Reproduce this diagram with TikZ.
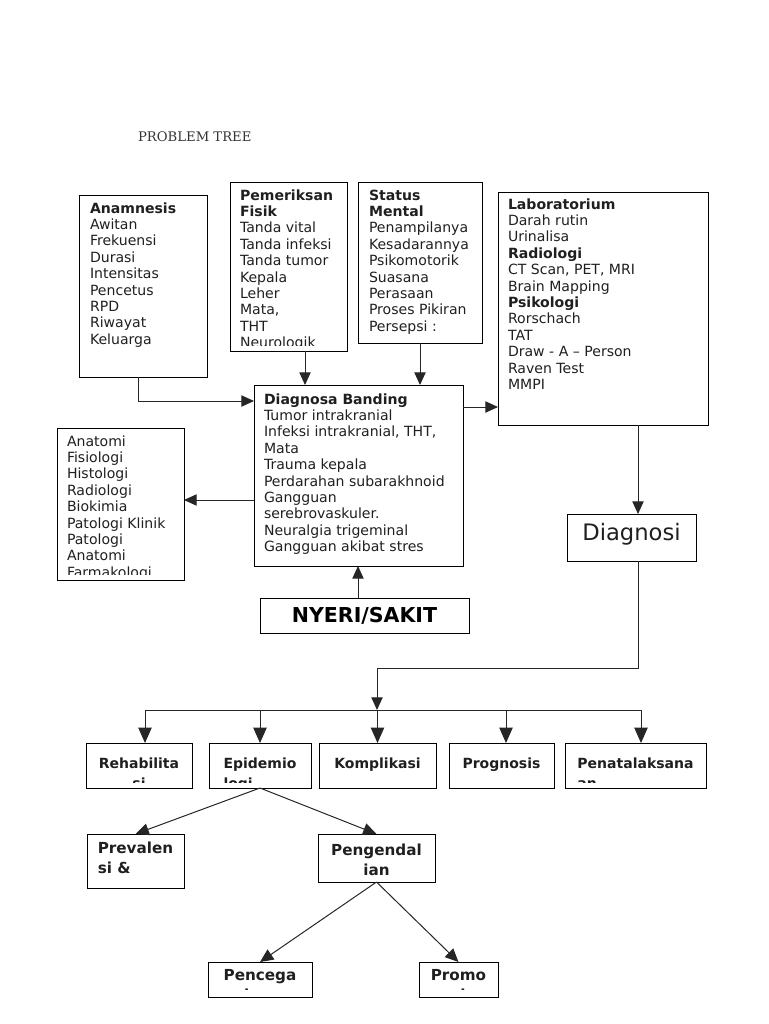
\documentclass[tikz,border=0pt]{standalone}
\usepackage{fontspec}
\setmainfont{DejaVu Sans}
\newfontfamily\titlefont{DejaVu Serif}
\usetikzlibrary{arrows.meta}
\newcommand\listfont{\fontsize{10.55}{12.3}\selectfont}
\newcommand\rowfont{\fontsize{10.5}{15}\selectfont\bfseries}
\newcommand\lowfont{\fontsize{11.4}{15}\selectfont\bfseries}
% list box: name, x1, y1, x2, y2, dx, baseline dy, content
\newcommand\lbox[8]{%
  \node[box, minimum width={(#4-#2)*0.75pt}, minimum height={(#5-#3)*0.75pt}] (#1) at ({(#2+#4)/2},{(#3+#5)/2}) {};
  \begin{scope}
    \clip ([yshift=4.5pt]#1.south west) rectangle (#1.north east);
    \node[txt, anchor=base west] (#1-t) at ([xshift=#6*0.75pt, yshift=-#7*0.75pt]#1.north west)
      {\listfont\begin{tabular}[t]{@{}l@{}}#8\end{tabular}};
  \end{scope}}
% centred box: name, x1, y1, x2, y2, baseline dy, clip inset, content
\newcommand\cbox[8]{%
  \node[box, minimum width={(#4-#2)*0.75pt}, minimum height={(#5-#3)*0.75pt}] (#1) at ({(#2+#4)/2},{(#3+#5)/2}) {};
  \begin{scope}
    \clip ([yshift=#7]#1.south west) rectangle (#1.north east);
    \node[txt, anchor=base] (#1-t) at ([yshift=-#6*0.75pt]#1.north) {#8};
  \end{scope}}
\begin{document}
\begin{tikzpicture}[x=0.75pt,y=-0.75pt,
  box/.style={draw=black, line width=0.75pt, inner sep=0pt, outer sep=0pt},
  txt/.style={inner sep=0pt, outer sep=0pt, text=black!88},
  conn/.style={line width=0.75pt, draw=black!85},
  arr/.style={conn, -{Triangle[length=9.5pt,width=8.5pt]}},
  arrb/.style={conn, -{Triangle[length=11.5pt,width=10pt]}},
  arrl/.style={conn, -{Triangle[length=10pt,width=9pt]}}]
\useasboundingbox (0,0) rectangle (768,1024);

\node[txt, anchor=base west, font=\titlefont\fontsize{9.9}{12}\selectfont, text=black!80] (title) at (138,142) {PROBLEM TREE};

\lbox{anam}{79}{195}{207}{377}{11}{18}{\textbf{Anamnesis}\\Awitan\\Frekuensi\\Durasi\\Intensitas\\Pencetus\\RPD\\Riwayat\\Keluarga}
\lbox{pem}{230}{182}{347}{351}{10}{18}{\textbf{Pemeriksan}\\\textbf{Fisik}\\Tanda vital\\Tanda infeksi\\Tanda tumor\\Kepala\\Leher\\Mata,\\THT\\Neurologik}
\lbox{stat}{358}{182}{482}{343}{11}{18}{\textbf{Status}\\\textbf{Mental}\\Penampilanya\\Kesadarannya\\Psikomotorik\\Suasana\\Perasaan\\Proses Pikiran\\Persepsi :}
\lbox{lab}{498}{192}{708}{425}{10}{17}{\textbf{Laboratorium}\\Darah rutin\\Urinalisa\\\textbf{Radiologi}\\CT Scan, PET, MRI\\Brain Mapping\\\textbf{Psikologi}\\Rorschach\\TAT\\Draw - A – Person\\Raven Test\\MMPI}
\lbox{diag}{254}{385}{463}{566}{10}{19}{\textbf{Diagnosa Banding}\\Tumor intrakranial\\Infeksi intrakranial, THT,\\Mata\\Trauma kepala\\Perdarahan subarakhnoid\\Gangguan\\serebrovaskuler.\\Neuralgia trigeminal\\Gangguan akibat stres}
\lbox{anat}{57}{428}{184}{580}{10}{18}{Anatomi\\Fisiologi\\Histologi\\Radiologi\\Biokimia\\Patologi Klinik\\Patologi\\Anatomi\\Farmakologi}

\node[box, minimum width={209*0.75pt}, minimum height={35*0.75pt}, font=\fontsize{15.4}{18}\selectfont\bfseries, text=black] (nyeri) at (364.5,615.5) {NYERI/SAKIT};

\node[box, minimum width={129*0.75pt}, minimum height={47*0.75pt}] (dgn) at (631.5,537.5) {};
\node[txt, anchor=base, font=\fontsize{17}{20}\selectfont] (dgn-t) at ([yshift=-26*0.75pt]dgn.north) {Diagnosi};

\cbox{rehab}{86}{743}{192}{788}{25}{3.9pt}{\rowfont\begin{tabular}[t]{@{}c@{}}Rehabilita\\si\end{tabular}}
\cbox{epid}{209}{743}{311}{788}{25}{3.9pt}{\rowfont\begin{tabular}[t]{@{}l@{}}Epidemio\\logi\end{tabular}}
\cbox{kompl}{319}{743}{436}{788}{25}{3.9pt}{\rowfont Komplikasi}
\cbox{progn}{449}{743}{554}{788}{25}{3.9pt}{\rowfont Prognosis}
\cbox{penat}{565}{743}{706}{788}{25}{3.9pt}{\rowfont\begin{tabular}[t]{@{}l@{}}Penatalaksana\\an\end{tabular}}

\cbox{prev}{87}{834}{184}{888}{19}{4.5pt}{\lowfont\begin{tabular}[t]{@{}l@{}}Prevalen\\si \&\end{tabular}}
\cbox{peng}{318}{834}{435}{882}{21}{4.5pt}{\lowfont\begin{tabular}[t]{@{}c@{}}Pengendal\\ian\end{tabular}}
\cbox{penc}{208}{962}{312}{997}{18}{6pt}{\lowfont\begin{tabular}[t]{@{}c@{}}Pencega\\han\end{tabular}}
\cbox{promo}{419}{962}{498}{997}{18}{6pt}{\lowfont\begin{tabular}[t]{@{}c@{}}Promo\\si\end{tabular}}

% connectors
\coordinate (ak) at (138,401);
\draw[arr] (ak |- anam.south) -- (ak) -- (ak -| diag.west);
\coordinate (xp) at (305,383);
\draw[arr] (xp |- pem.south) -- (xp |- diag.north);
\draw[arr] (stat.south) -- (stat.south |- diag.north);
\coordinate (dl) at (480,407);
\draw[arr] (dl -| diag.east) -- (dl -| lab.west);
\coordinate (da) at (220,500);
\draw[arr] (da -| diag.west) -- (da -| anat.east);
\coordinate (nd) at (358,580);
\draw[arr] (nd |- nyeri.north) -- (nd |- diag.south);
\coordinate (k1) at (638,668);
\draw[arr] (k1 |- lab.south) -- (k1 |- dgn.north);
\coordinate (bc) at (377,710);
\draw[arr] (k1 |- dgn.south) -- (k1) -| (bc);

\coordinate (bl) at (145,710);
\coordinate (brr) at (641,710);
\coordinate (pa) at (506,710);
\draw[conn] (bl) -- (brr);
\draw[arrb] (bl) -- (bl |- rehab.north);
\draw[arrb] (epid.north |- bl) -- (epid.north);
\draw[arrb] (kompl.north |- bl) -- (kompl.north);
\draw[arrb] (pa) -- (pa |- progn.north);
\draw[arrb] (brr) -- (brr |- penat.north);

\draw[arrl] (epid.south) -- (prev.north);
\draw[arrl] (epid.south) -- (peng.north);
\draw[arrl] (peng.south) -- (penc.north);
\draw[arrl] (peng.south) -- (promo.north);
\end{tikzpicture}
\end{document}
